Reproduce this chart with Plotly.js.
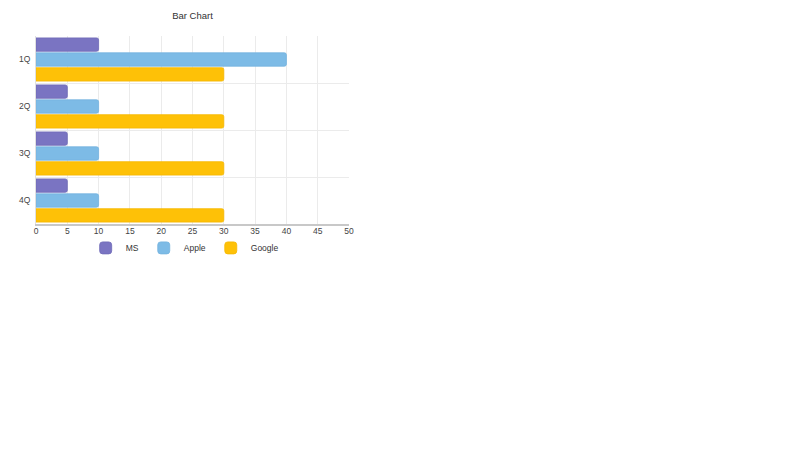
<!DOCTYPE html>
<html>
<head>
<meta charset="utf-8">
<script src="https://cdn.plot.ly/plotly-3.0.1.min.js"></script>
<style>
  html, body { margin: 0; padding: 0; background: #fff; }
  #chart { width: 800px; height: 450px; }
</style>
</head>
<body>
<div id="chart"></div>
<script>
    var quarters = ['1Q', '2Q', '3Q', '4Q'];
    var msValues = [10, 5, 5, 5];
    var appleValues = [40, 10, 10, 10];
    var googleValues = [30, 30, 30, 30];
    var seriesNames = ['MS', 'Apple', 'Google'];
    var xTicks = [0, 5, 10, 15, 20, 25, 30, 35, 40, 45, 50];

    var colors = ['#7a74c2', '#7dbbe6', '#fec107'];
    var lines = ['#6f69b8', '#74b2de', '#f5b800'];
    var seriesValues = [msValues, appleValues, googleValues];

    var data = [];
    for (let i in seriesNames) {
        data.push({
            type: 'bar',
            orientation: 'h',
            name: seriesNames[i],
            y: quarters,
            x: seriesValues[i],
            marker: {color: colors[i], line: {color: lines[i], width: 0.8}, cornerradius: 2},
            hoverinfo: 'x+name'
        });
    }

    var layout = {
        width: 800,
        height: 450,
        font: {family: 'Liberation Sans, Arial, sans-serif', size: 9, color: '#444'},
        title: {text: 'Bar Chart', x: 0.2406, xanchor: 'center', y: 0.966, yanchor: 'middle',
                font: {size: 9.5, color: '#333'}},
        margin: {l: 36, r: 451, t: 36, b: 226, pad: 0},
        barmode: 'group',
        bargap: 0.05,
        bargroupgap: 0.1,
        showlegend: true,
        legend: {orientation: 'h', x: 0.475, xanchor: 'center', y: -0.05, yanchor: 'top',
                 bgcolor: 'rgba(0,0,0,0)',
                 font: {size: 8.5, color: '#333'}, itemwidth: 30, traceorder: 'normal'},
        xaxis: {
            range: [0, 50],
            tickvals: xTicks,
            ticktext: xTicks.map(String),
            showgrid: true,
            gridcolor: '#ebebeb',
            gridwidth: 1,
            zeroline: false,
            showline: true,
            linecolor: '#c8c8c8',
            linewidth: 1.5,
            ticks: '',
            ticklabelstandoff: -2,
            tickfont: {size: 8.5, color: '#444'},
            fixedrange: true
        },
        yaxis: {
            type: 'category',
            autorange: 'reversed',
            tickson: 'boundaries',
            showgrid: true,
            gridcolor: '#ebebeb',
            showline: true,
            linecolor: '#e0e0e0',
            ticks: '',
            ticklabelstandoff: 3,
            tickfont: {size: 8.5, color: '#444'},
            fixedrange: true
        },
        plot_bgcolor: '#fff',
        paper_bgcolor: '#fff'
    };

    var config = {responsive: false, displayModeBar: false};
    Plotly.newPlot('chart', data, layout, config);
</script>
</body>
</html>
